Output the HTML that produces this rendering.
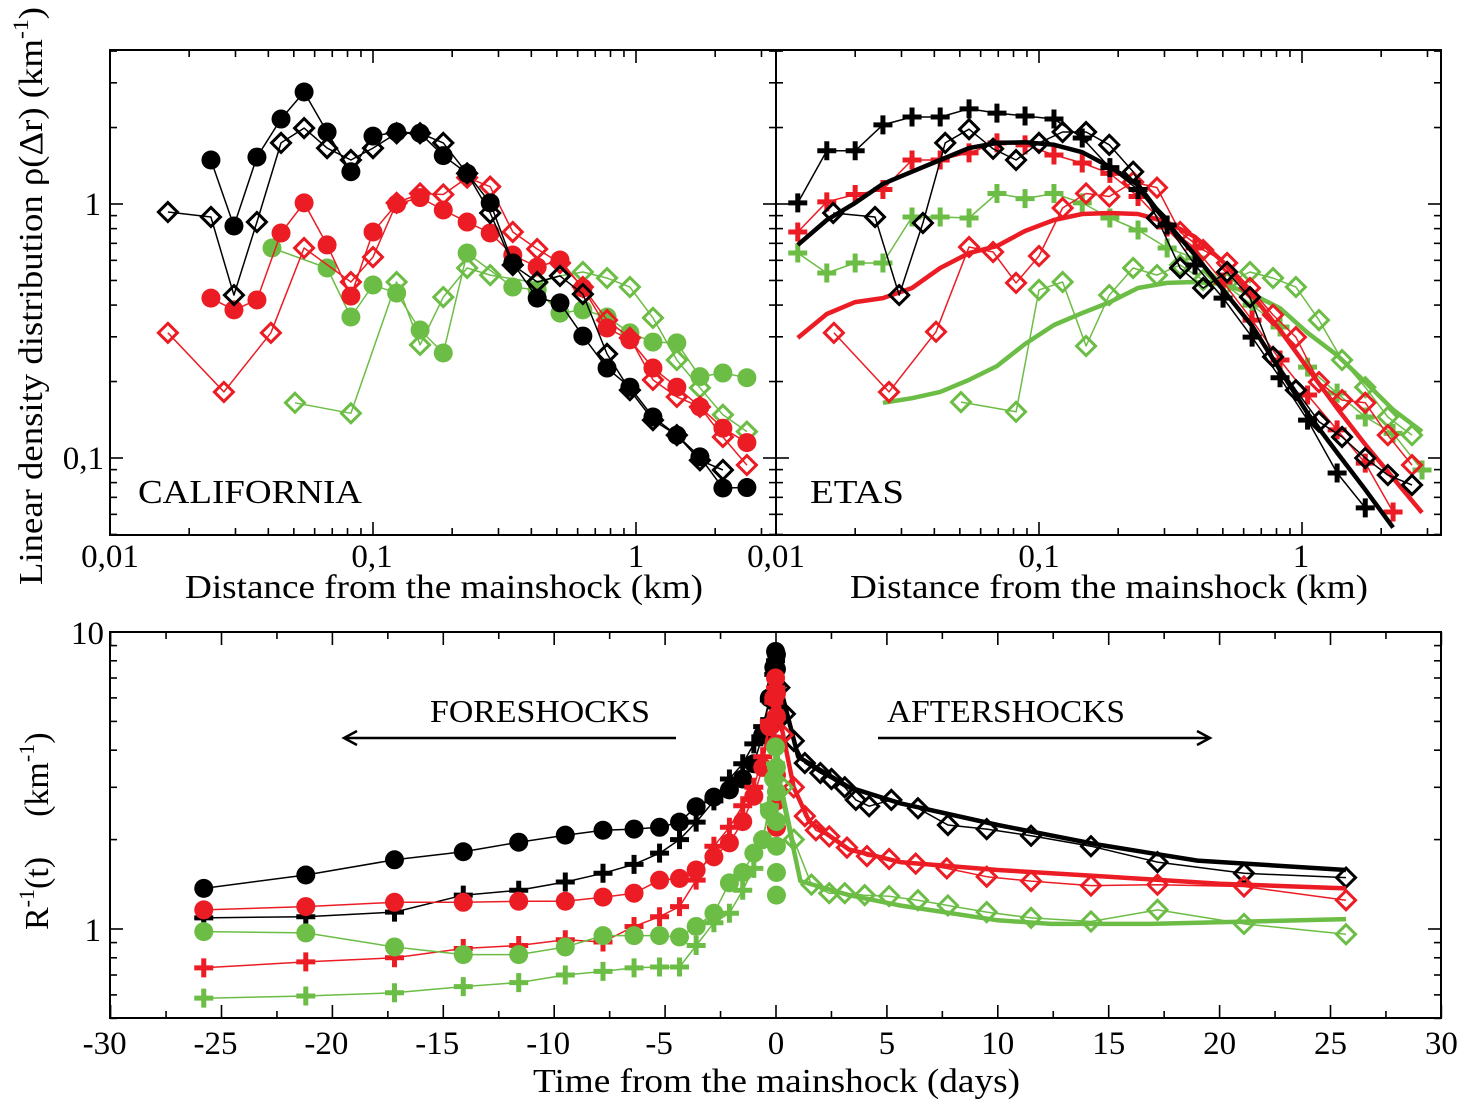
<!DOCTYPE html>
<html><head><meta charset="utf-8"><style>
html,body{margin:0;padding:0;background:#fff;}
svg{display:block;font-family:"Liberation Serif",serif;}
</style></head><body>
<svg id="fig" width="1458" height="1100" viewBox="0 0 1458 1100" xmlns="http://www.w3.org/2000/svg">
<defs>
<clipPath id="c1"><rect x="110" y="50" width="666" height="485"/></clipPath>
<clipPath id="c2"><rect x="776" y="50" width="665" height="485"/></clipPath>
<clipPath id="c3"><rect x="110" y="632" width="1331" height="386"/></clipPath>
</defs>
<g id="axes"></g>
<g id="marks1" clip-path="url(#c1)"></g>
<g id="marks2" clip-path="url(#c2)"></g>
<g id="marks3" clip-path="url(#c3)"></g>
<text x="138" y="503" font-size="34" textLength="224" lengthAdjust="spacingAndGlyphs">CALIFORNIA</text>
<text x="810" y="503" font-size="34" textLength="94" lengthAdjust="spacingAndGlyphs">ETAS</text>
<text x="430" y="722" font-size="32" textLength="220" lengthAdjust="spacingAndGlyphs">FORESHOCKS</text>
<text x="887" y="722" font-size="32" textLength="238" lengthAdjust="spacingAndGlyphs">AFTERSHOCKS</text>
<g stroke="#000" stroke-width="2.5" fill="none">
<line x1="676" y1="738" x2="345" y2="738"/><polyline points="357,731 344,738 357,745"/></g>
<g stroke="#000" stroke-width="2.5" fill="none">
<line x1="878" y1="738" x2="1209" y2="738"/><polyline points="1197,731 1210,738 1197,745"/></g>
<text x="185" y="598" font-size="34" textLength="518" lengthAdjust="spacingAndGlyphs">Distance from the mainshock (km)</text>
<text x="850" y="598" font-size="34" textLength="518" lengthAdjust="spacingAndGlyphs">Distance from the mainshock (km)</text>
<text x="533" y="1092" font-size="34" textLength="487" lengthAdjust="spacingAndGlyphs">Time from the mainshock (days)</text>
<text transform="translate(42,585) rotate(-90)" font-size="34" textLength="578" lengthAdjust="spacingAndGlyphs">Linear density distribution ρ(Δr) (km<tspan font-size="22" dy="-14">-1</tspan><tspan dy="14">)</tspan></text>
<text transform="translate(48,930) rotate(-90)" font-size="34">R<tspan font-size="22" dy="-14">-1</tspan><tspan dy="14">(t)</tspan><tspan dx="40">(km</tspan><tspan font-size="22" dy="-14">-1</tspan><tspan dy="14">)</tspan></text>
</svg>
<script>
// ---------- CALIFORNIA data ----------
const caCircX = [0.0242,0.0296,0.0362,0.0447,0.0547,0.0669,0.0824,0.100,0.123,0.151,0.185,0.228,0.279,0.340,0.421,0.514,0.628,0.776,0.948,1.16,1.43,1.75,2.14,2.64];
const caBlackCirc = [1.49,0.819,1.53,2.16,2.76,1.92,1.34,1.85,1.92,1.90,1.55,1.32,1.01,0.586,0.426,0.408,0.302,0.226,0.190,0.145,0.123,0.101,0.0762,0.0765];
const caRedCirc = [0.426,0.383,0.419,0.769,1.01,0.690,0.434,0.776,1.0,1.06,0.947,0.849,0.769,0.630,0.565,0.602,0.467,0.325,0.292,0.226,0.190,0.159,0.131,0.115];
const caBlackDiaX = [0.0166,0.0242,0.0296,0.0362,0.0447,0.0547,0.0669,0.0824,0.100,0.123,0.151,0.185,0.228,0.279,0.340,0.421,0.514,0.628,0.776,0.948,1.16,1.43,1.75,2.14];
const caBlackDia = [0.930,0.889,0.438,0.849,1.74,1.99,1.66,1.49,1.66,1.90,1.90,1.74,1.32,0.922,0.575,0.493,0.521,0.442,0.257,0.185,0.141,0.123,0.098,0.0897];
const caRedDiaX = [0.0166,0.0271,0.0409,0.0547,0.0824,0.100,0.123,0.151,0.185,0.228,0.279,0.340,0.421,0.514,0.628,0.776,0.948,1.16,1.43,1.75,2.14,2.64];
const caRedDia = [0.311,0.182,0.311,0.671,0.493,0.618,1.01,1.10,1.09,1.27,1.17,0.776,0.665,0.586,0.471,0.349,0.297,0.203,0.174,0.159,0.121,0.0938];
const caGreenCircX = [0.0413,0.0669,0.0824,0.100,0.123,0.151,0.185,0.228,0.340,0.421,0.514,0.628,0.776,0.948,1.16,1.43,1.75,2.14,2.64];
const caGreenCirc = [0.671,0.560,0.359,0.480,0.446,0.319,0.259,0.641,0.471,0.459,0.372,0.383,0.359,0.311,0.286,0.284,0.209,0.216,0.207];
const caGreenDiaX = [0.0505,0.0824,0.123,0.151,0.185,0.228,0.279,0.421,0.514,0.628,0.776,0.948,1.16,1.43,1.75,2.14,2.64];
const caGreenDia = [0.165,0.150,0.493,0.279,0.430,0.560,0.525,0.489,0.521,0.540,0.511,0.471,0.356,0.243,0.189,0.148,0.127];
// ---------- ETAS data ----------
const etPlusX = [0.0121,0.0156,0.0200,0.0255,0.0329,0.0421,0.0542,0.0692,0.0885,0.114,0.146,0.186,0.238,0.307,0.392,0.501,0.646,0.825,1.05,1.36,1.74,2.22,2.86];
const etBlackPlus = [1.01,1.62,1.62,2.05,2.20,2.20,2.37,2.28,2.22,2.16,1.82,1.39,1.14,0.827,0.575,0.426,0.299,0.207,0.141,0.0873,0.0636];
const etRedPlus = [0.776,1.02,1.09,1.14,1.49,1.49,1.59,1.74,1.71,1.56,1.45,1.32,1.07,0.812,0.671,0.493,0.349,0.243,0.177,0.129,0.0955,0.0613];
const etGreenPlus = [0.641,0.535,0.586,0.586,0.889,0.889,0.881,1.10,1.05,1.10,1.01,0.881,0.790,0.671,0.613,0.489,0.400,0.328,0.228,0.180,0.145,0.125,0.0897];
const etBlackLine = [0.690,0.865,1.01,1.20,1.34,1.49,1.66,1.74,1.75,1.71,1.60,1.40,1.19,0.842,0.630,0.459,0.331,0.222,0.150,0.105,0.075,0.0532];
const etRedLine = [0.297,0.369,0.411,0.426,0.467,0.560,0.641,0.683,0.783,0.865,0.913,0.922,0.913,0.849,0.742,0.591,0.438,0.319,0.226,0.157,0.113,0.0834,0.0609];
const etGreenLineX = [0.0255,0.0329,0.0421,0.0542,0.0692,0.0885,0.114,0.146,0.186,0.238,0.307,0.392,0.501,0.646,0.825,1.05,1.36,1.74,2.22,2.86];
const etGreenLine = [0.165,0.172,0.182,0.203,0.230,0.281,0.334,0.372,0.411,0.467,0.489,0.493,0.484,0.442,0.389,0.311,0.254,0.199,0.155,0.127];
const etBlackDiaX = [0.0165,0.0238,0.0294,0.0362,0.0440,0.0542,0.0669,0.0818,0.100,0.123,0.151,0.185,0.228,0.281,0.344,0.421,0.519,0.634,0.776,0.948,1.16,1.42,1.74,2.12,2.62];
const etBlackDia = [0.922,0.889,0.438,0.842,1.74,1.97,1.65,1.49,1.74,1.92,1.92,1.71,1.34,0.881,0.560,0.467,0.540,0.430,0.250,0.185,0.139,0.121,0.100,0.0857,0.0783];
const etRedDiaX = [0.0166,0.0269,0.0406,0.0542,0.0669,0.0818,0.100,0.123,0.151,0.185,0.228,0.281,0.344,0.421,0.519,0.634,0.776,0.948,1.16,1.42,1.74,2.12,2.62];
const etRedDia = [0.311,0.182,0.314,0.677,0.647,0.489,0.624,0.964,1.10,1.07,1.22,1.16,0.776,0.659,0.586,0.467,0.366,0.299,0.199,0.169,0.165,0.123,0.0938];
const etGreenDiaX = [0.0505,0.0818,0.100,0.123,0.151,0.185,0.228,0.281,0.344,0.421,0.519,0.634,0.776,0.948,1.16,1.42,1.74,2.12,2.62];
const etGreenDia = [0.166,0.152,0.459,0.493,0.276,0.438,0.560,0.525,0.575,0.502,0.489,0.540,0.511,0.471,0.349,0.243,0.190,0.145,0.123];
// ---------- Time data ----------
const foreT = [-25.8,-21.2,-17.2,-14.1,-11.6,-9.5,-7.8,-6.4,-5.25,-4.35,-3.6,-2.8,-2.1,-1.5,-1.0,-0.6,-0.3,-0.1,-0.02];
const foreBlackCirc = [1.37,1.52,1.71,1.82,1.96,2.07,2.15,2.17,2.20,2.29,2.58,2.78,2.94,3.2,3.6,4.5,6.0,7.6,8.6];
const foreBlackPlus = [1.09,1.10,1.14,1.30,1.35,1.44,1.54,1.65,1.80,2.0,2.29,2.7,3.2,3.6,4.2,4.8,5.9,7.2,8.0];
const foreRedCirc = [1.16,1.19,1.23,1.23,1.24,1.24,1.28,1.32,1.46,1.48,1.58,1.75,1.95,2.3,2.8,3.5,4.8,6.0,7.0];
const foreRedPlus = [0.74,0.775,0.80,0.86,0.88,0.92,0.904,1.02,1.10,1.19,1.46,1.9,2.2,2.6,3.0,3.8,5.0,5.8,6.5];
const foreGreenCirc = [0.98,0.97,0.87,0.82,0.82,0.87,0.95,0.95,0.95,0.94,1.02,1.13,1.43,1.55,1.8,2.0,2.5,3.2,4.1];
const foreGreenPlus = [0.585,0.595,0.61,0.64,0.66,0.70,0.72,0.74,0.745,0.745,0.88,1.05,1.13,1.35,1.6,2.0,2.6,3.2,3.6];
const zeroT = [0.02,0.02,0.02,0.02,0.02,0.02];
const zeroGreen = [1.3,1.55,1.9,2.3,2.9,3.5];
const zeroRed = [2.2,2.7,3.3,4.2,5.2,6.2];
const zeroBlack = [4.2,5.0,5.8,6.6,7.5,8.4];
const aftBlackDiaT = [0.15,0.4,0.8,1.3,2.0,2.5,3.1,3.6,4.2,5.2,6.4,7.75,9.5,11.5,14.2,17.2,21.1,25.7];
const aftBlackDia = [6.5,5.3,4.3,3.62,3.35,3.2,3.0,2.72,2.59,2.72,2.55,2.24,2.17,2.06,1.90,1.68,1.54,1.49];
const aftBlackLineT = [0.05,0.2,1,3.3,5.6,10,14.6,19,25.7];
const aftBlackLine = [8.5,6.5,3.8,3.0,2.65,2.24,1.92,1.70,1.58];
const aftRedDiaT = [0.3,0.8,1.3,1.8,2.4,3.2,4.1,5.1,6.3,7.7,9.5,11.5,14.2,17.2,21.1,25.7];
const aftRedDia = [4.5,3.0,2.4,2.15,2.05,1.88,1.76,1.72,1.66,1.60,1.50,1.45,1.40,1.41,1.39,1.25];
const aftRedLineT = [0.05,0.2,0.8,1.5,3.3,5.6,10,15,20,25.7];
const aftRedLine = [6.8,5,3,2.3,1.85,1.68,1.58,1.5,1.42,1.37];
const aftGreenDiaT = [0.3,0.8,1.6,2.4,3.1,4.0,5.1,6.4,7.75,9.5,11.5,14.2,17.2,21.1,25.7];
const aftGreenDia = [3.0,2.0,1.41,1.32,1.32,1.30,1.29,1.25,1.20,1.14,1.09,1.06,1.16,1.04,0.96];
const aftGreenLineT = [0.05,0.2,1.1,3.3,5.6,10,12.4,16.9,25.7];
const aftGreenLine = [4.0,3.0,1.45,1.3,1.2,1.07,1.04,1.04,1.08];
const xTicks3 = [-30,-25,-20,-15,-10,-5,0,5,10,15,20,25,30];

const BLK="#000", RED="#ec1c24", GRN="#6cbd45";
const NS="http://www.w3.org/2000/svg";
const L10=Math.log10;
const X1=v=>110+(L10(v)+2)*263, X2=v=>776+(L10(v)+2)*263, YT=v=>204-L10(v)*254;
const X3=t=>776+t*22.18, Y3=v=>929-L10(v)*297;

function mk(tag,attrs,parent){const e=document.createElementNS(NS,tag);for(const k in attrs)e.setAttribute(k,attrs[k]);parent.appendChild(e);return e;}

function series(g,xs,ys,X,Y,color,marker,name,lw){
  const grp=mk('g',{},g);
  
  
  const n=Math.min(xs.length,ys.length);
  const pts=[];for(let i=0;i<n;i++)pts.push(X(xs[i]).toFixed(1)+','+Y(ys[i]).toFixed(1));
  if(lw>0){const pl=mk('polyline',{points:pts.join(' '),fill:'none',stroke:color,'stroke-width':lw,'stroke-linejoin':'round'},grp);
    
    }
  for(let i=0;i<n;i++){
    const x=X(xs[i]),y=Y(ys[i]);let m;
    if(marker==='circle'){m=mk('circle',{cx:x,cy:y,r:9.5,fill:color},grp);}
    else if(marker==='diamond'){m=mk('polygon',{points:`${x},${y-9.5} ${x+9.5},${y} ${x},${y+9.5} ${x-9.5},${y}`,fill:'none',stroke:color,'stroke-width':3},grp);}
    else if(marker==='plus'){m=mk('path',{d:`M${x-9.5},${y}H${x+9.5}M${x},${y-9.5}V${y+9.5}`,stroke:color,'stroke-width':5,fill:'none'},grp);}
    if(m){
      }
  }
}

const ax=document.getElementById('axes');
function frame(x,y,w,h,name){const r=mk('rect',{x:x,y:y,width:w,height:h,fill:'none',stroke:'#000','stroke-width':2},ax);
  
  }
function tk(x1,y1,x2,y2){mk('line',{x1:x1,y1:y1,x2:x2,y2:y2,stroke:'#000','stroke-width':1.6},ax);}
function lbl(x,y,s,anchor,name){const t=mk('text',{x:x,y:y,'font-size':33,'text-anchor':anchor},ax);t.textContent=s;
  
  }

frame(110,50,666,485,'california-frame');
frame(776,50,665,485,'etas-frame');
frame(110,632,1331,386,'time-frame');

function logTicksX(X,x0,x1){
  for(let d=-2;d<=1;d++)for(let k=1;k<=9;k++){const v=k*Math.pow(10,d);const x=X(v);if(x<x0-0.5||x>x1+0.5)continue;
    const len=k===1?13:7;tk(x,535,x,535-len);tk(x,50,x,50+len);}
}
logTicksX(X1,110,776);logTicksX(X2,776,1441);
function logTicksY(xl,xr,Y,y0,y1,decs){
  for(const d of decs)for(let k=1;k<=9;k++){const v=k*Math.pow(10,d);const y=Y(v);if(y<y0-0.5||y>y1+0.5)continue;
    const len=k===1?13:7;tk(xl,y,xl+len,y);tk(xr,y,xr-len,y);}
}
logTicksY(110,776,YT,50,535,[-2,-1,0]);
logTicksY(776,1441,YT,50,535,[-2,-1,0]);
logTicksY(110,1441,Y3,632,1018,[-1,0,1]);
for(let t=-30;t<=30;t+=2.5){const x=X3(t);const len=(t%5===0)?13:7;tk(x,1018,x,1018-len);tk(x,632,x,632+len);}

lbl(110,567,'0,01','middle','x-tick-ca-0.01');lbl(372,567,'0,1','middle','x-tick-ca-0.1');lbl(636,567,'1','middle','x-tick-ca-1');
lbl(776,567,'0,01','middle','x-tick-etas-0.01');lbl(1039,567,'0,1','middle','x-tick-etas-0.1');lbl(1301,567,'1','middle','x-tick-etas-1');
lbl(101,215,'1','end','y-tick-1');lbl(104,469,'0,1','end','y-tick-0.1');
lbl(104,644,'10','end','y-tick-10');lbl(101,941,'1','end','y-tick-bottom-1');
xTicks3.forEach(t=>lbl(X3(t)-(t<0?6:0),1054,String(t),'middle','x-tick-'+t));

const m1=document.getElementById('marks1'),m2=document.getElementById('marks2'),m3=document.getElementById('marks3');
series(m1,caGreenDiaX,caGreenDia,X1,YT,GRN,'diamond','ca-green-diamonds',1.5);
series(m1,caGreenCircX,caGreenCirc,X1,YT,GRN,'circle','ca-green-circles',1.5);
series(m1,caRedDiaX,caRedDia,X1,YT,RED,'diamond','ca-red-diamonds',1.5);
series(m1,caCircX,caRedCirc,X1,YT,RED,'circle','ca-red-circles',1.5);
series(m1,caBlackDiaX,caBlackDia,X1,YT,BLK,'diamond','ca-black-diamonds',1.5);
series(m1,caCircX,caBlackCirc,X1,YT,BLK,'circle','ca-black-circles',1.5);
series(m2,etGreenDiaX,etGreenDia,X2,YT,GRN,'diamond','etas-green-diamonds',1.5);
series(m2,etPlusX,etGreenPlus,X2,YT,GRN,'plus','etas-green-plus',1.5);
series(m2,etGreenLineX,etGreenLine,X2,YT,GRN,'none','etas-green-curve',4.5);
series(m2,etRedDiaX,etRedDia,X2,YT,RED,'diamond','etas-red-diamonds',1.5);
series(m2,etPlusX,etRedPlus,X2,YT,RED,'plus','etas-red-plus',1.5);
series(m2,etPlusX,etRedLine,X2,YT,RED,'none','etas-red-curve',4.5);
series(m2,etBlackDiaX,etBlackDia,X2,YT,BLK,'diamond','etas-black-diamonds',1.5);
series(m2,etPlusX,etBlackPlus,X2,YT,BLK,'plus','etas-black-plus',1.5);
series(m2,etPlusX,etBlackLine,X2,YT,BLK,'none','etas-black-curve',4.5);
series(m3,aftBlackDiaT,aftBlackDia,X3,Y3,BLK,'diamond','after-black-diamonds',1.5);
series(m3,aftBlackLineT,aftBlackLine,X3,Y3,BLK,'none','after-black-curve',4.5);
series(m3,foreT,foreBlackPlus,X3,Y3,BLK,'plus','fore-black-plus',1.5);
series(m3,foreT,foreBlackCirc,X3,Y3,BLK,'circle','fore-black-circles',1.5);
series(m3,zeroT,zeroBlack,X3,Y3,BLK,'circle','zero-black-circles',0);
series(m3,aftRedDiaT,aftRedDia,X3,Y3,RED,'diamond','after-red-diamonds',1.5);
series(m3,aftRedLineT,aftRedLine,X3,Y3,RED,'none','after-red-curve',4.5);
series(m3,foreT,foreRedPlus,X3,Y3,RED,'plus','fore-red-plus',1.5);
series(m3,foreT,foreRedCirc,X3,Y3,RED,'circle','fore-red-circles',1.5);
series(m3,zeroT,zeroRed,X3,Y3,RED,'circle','zero-red-circles',0);
series(m3,aftGreenDiaT,aftGreenDia,X3,Y3,GRN,'diamond','after-green-diamonds',1.5);
series(m3,aftGreenLineT,aftGreenLine,X3,Y3,GRN,'none','after-green-curve',4.5);
series(m3,foreT,foreGreenPlus,X3,Y3,GRN,'plus','fore-green-plus',1.5);
series(m3,foreT,foreGreenCirc,X3,Y3,GRN,'circle','fore-green-circles',1.5);
series(m3,zeroT,zeroGreen,X3,Y3,GRN,'circle','zero-green-circles',0);
</script>
</body></html>
